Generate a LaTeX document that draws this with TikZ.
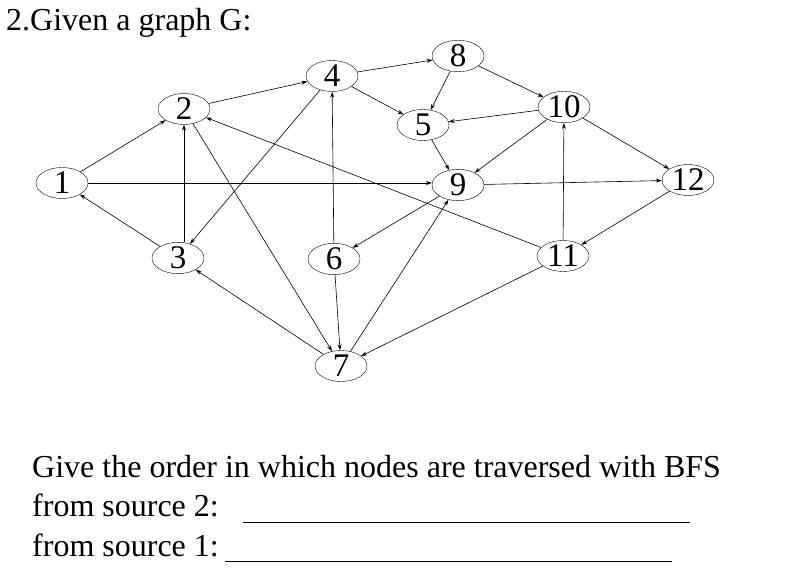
\documentclass[tikz,border=0pt]{standalone}
\usepackage{fontspec}
\setmainfont{Liberation Serif}
\usetikzlibrary{shapes.geometric,arrows.meta}
\begin{document}
\begin{tikzpicture}[x=1pt,y=-1pt,
  v/.style={draw,ellipse,minimum width=52pt,minimum height=31pt,inner sep=0pt,font=\fontsize{33}{33}\selectfont},
  e/.style={-{Stealth[length=6pt,width=4pt]},line width=0.6pt},
  txt/.style={anchor=base west,inner sep=0pt,font=\fontsize{32}{36}\selectfont}]
\useasboundingbox (0,0) rectangle (786,583);
\node[v] (n1) at (62,183) {1};
\node[v] (n2) at (184,109) {2};
\node[v] (n3) at (178,258) {3};
\node[v] (n4) at (332,76) {4};
\node[v] (n5) at (423,125) {5};
\node[v] (n6) at (334,259) {6};
\node[v] (n7) at (341,366) {7};
\node[v] (n8) at (458,56) {8};
\node[v] (n9) at (458,185) {9};
\node[v] (n10) at (564,107) {10};
\node[v] (n11) at (563,256) {11};
\node[v] (n12) at (688,180) {12};
\foreach \a/\b in {n1/n2,n3/n1,n2/n4,n2/n7,n11/n2,n4/n3,n6/n4,n6/n7,n7/n3,n4/n8,n4/n5,n8/n5,n8/n10,n10/n5,n5/n9,n10/n9,n10/n12,n9/n12,n9/n6,n7/n9,n11/n10,n12/n11,n11/n7}
  \draw[e] (\a) -- (\b);
\draw[e] (n3.north -| n2) -- (n2.south);
\draw[e] (n1) -- (n9.west |- n1);
\node[txt] (t) at (6,31) {2.Given a graph G:};
\node[txt] (q) at (32,477) {Give the order in which nodes are traversed with BFS};
\node[txt] (s2) at (32,516) {from source 2:};
\node[txt] (s1) at (32,556) {from source 1:};
\coordinate (a2) at (243,522); \coordinate (b2) at (690,522);
\coordinate (a1) at (225,561); \coordinate (b1) at (672,561);
\draw[line width=1pt] (a2) -- (b2);
\draw[line width=1pt] (a1) -- (b1);
\end{tikzpicture}
\end{document}
